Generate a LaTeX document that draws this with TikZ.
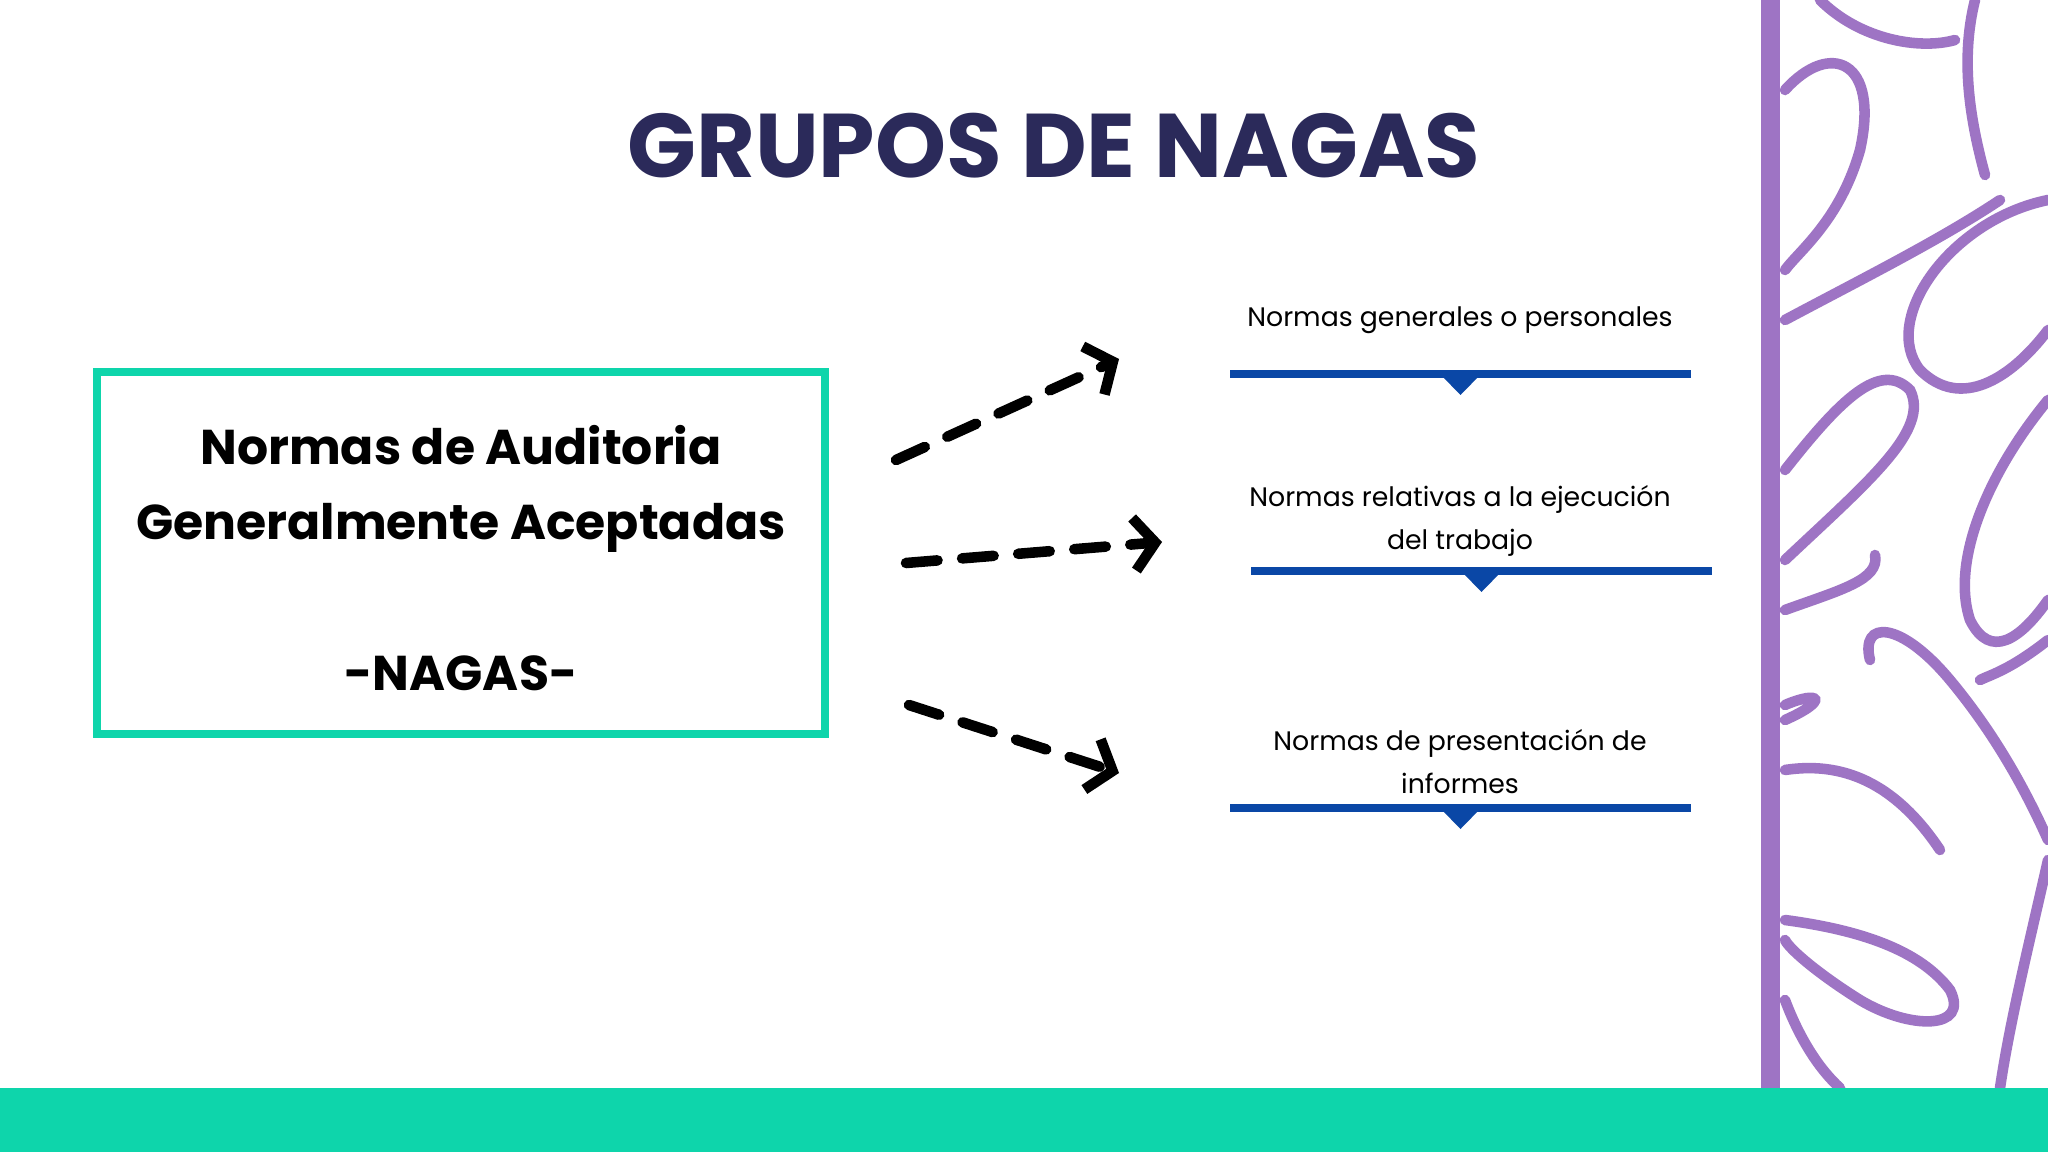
\documentclass[tikz,border=0pt]{standalone}
\usepackage{fontspec}
\setmainfont{Poppins}
\usetikzlibrary{arrows.meta}
\definecolor{navy}{HTML}{2B2A5A}
\definecolor{teal}{HTML}{0ED5AB}
\definecolor{lineblue}{HTML}{0A47A6}
\definecolor{lilac}{HTML}{9E74C4}
\tikzset{
  dasharrow/.style={line width=3pt, line cap=round, dash pattern=on 9pt off 7pt,
    -{Straight Barb[length=6pt,width=15pt,line width=3pt]}},
  itemtext/.style={font=\fontsize{7.6}{12.2}\selectfont, align=center},
  squiggle/.style={lilac, line width=3pt, line cap=round}
}
\newcommand\itembar[2]{% left x, y
  \fill[lineblue] (#1,#2-4) rectangle (#1+461,#2+4);
  \fill[lineblue] (#1+210,#2) -- (#1+251,#2) -- (#1+230.5,#2+21) -- cycle;}
\begin{document}
\begin{tikzpicture}[x={(0.01cm,0)}, y={(0,-0.01cm)}]
  \useasboundingbox (0,0) rectangle (2048,1152);
  \fill[white] (0,0) rectangle (2048,1152);

  % title
  \node[navy, font=\fontsize{25.7}{30}\selectfont\bfseries] (title) at (1054,146) {GRUPOS DE NAGAS};

  % main box
  \draw[teal, line width=2.4pt] (97,372) rectangle (825,734);
  \node[font=\fontsize{13.9}{21.3}\selectfont\bfseries, align=center] (nagas) at (461,489)
    {Normas de Auditoria\\Generalmente Aceptadas};
  \node[font=\fontsize{13.9}{21.3}\selectfont\bfseries] (sigla) at (461,673) {-NAGAS-};

  % arrows
  \coordinate (a1) at (896,460); \coordinate (b1) at (1119,359);
  \coordinate (a2) at (906,563); \coordinate (b2) at (1162,542);
  \coordinate (a3) at (909,705); \coordinate (b3) at (1119,773);
  \draw[dasharrow] (a1) -- (b1);
  \draw[dasharrow] (a2) -- (b2);
  \draw[dasharrow] (a3) -- (b3);

  % items
  \node[itemtext] (g1) at (1460,320) {Normas generales o personales};
  \itembar{1230}{374}
  \node[itemtext] (g2) at (1460,521) {Normas relativas a la ejecución\\del trabajo};
  \itembar{1251}{571}
  \node[itemtext] (g3) at (1460,762) {Normas de presentación de\\informes};
  \itembar{1230}{808}

  % decoration strip
  \fill[lilac] (1761,0) rectangle (1780,1088);
  \begin{scope}
    \clip (1780,0) rectangle (2048,1088);
    \draw[squiggle] (1820,0) .. controls (1860,40) and (1920,50) .. (1955,40);
    \draw[squiggle] (1785,90) .. controls (1830,40) and (1880,60) .. (1860,150) .. controls (1840,220) and (1800,250) .. (1785,270);
    \draw[squiggle] (1975,0) .. controls (1960,60) and (1970,120) .. (1985,175);
    \draw[squiggle] (2048,200) .. controls (1950,220) and (1880,320) .. (1920,370) .. controls (1960,410) and (2010,380) .. (2048,330);
    \draw[squiggle] (1785,320) .. controls (1860,280) and (1940,240) .. (2000,200);
    \draw[squiggle] (1785,470) .. controls (1840,400) and (1880,360) .. (1910,390) .. controls (1930,430) and (1870,480) .. (1785,560);
    \draw[squiggle] (2048,400) .. controls (1990,470) and (1950,560) .. (1970,620) .. controls (1990,660) and (2020,640) .. (2048,600);
    \draw[squiggle] (1785,610) .. controls (1840,590) and (1880,580) .. (1875,555);
    \draw[squiggle] (1785,720) .. controls (1830,700) and (1820,690) .. (1785,705);
    \draw[squiggle] (1870,660) .. controls (1860,620) and (1900,620) .. (1950,680) .. controls (2000,740) and (2030,800) .. (2048,840);
    \draw[squiggle] (1785,770) .. controls (1850,760) and (1900,790) .. (1940,850);
    \draw[squiggle] (1785,920) .. controls (1860,930) and (1920,950) .. (1950,990) .. controls (1970,1030) and (1910,1030) .. (1860,1000) .. controls (1820,975) and (1790,950) .. (1785,940);
    \draw[squiggle] (2048,860) .. controls (2030,940) and (2010,1020) .. (2000,1088);
    \draw[squiggle] (1785,1000) .. controls (1800,1040) and (1820,1070) .. (1840,1088);
    \draw[squiggle] (2048,640) .. controls (2010,670) and (1990,675) .. (1980,680);
  \end{scope}

  % bottom bar
  \fill[teal] (0,1088) rectangle (2048,1152);
\end{tikzpicture}
\end{document}
